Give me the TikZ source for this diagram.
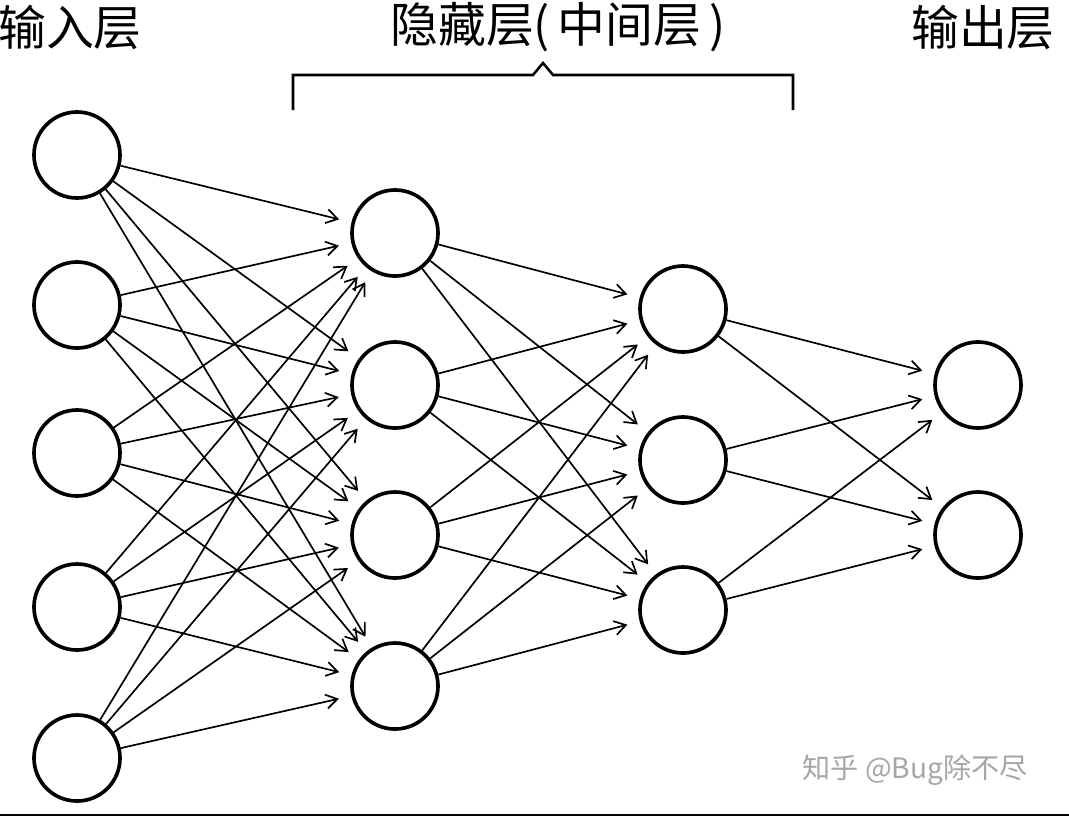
\documentclass[tikz,border=0pt]{standalone}
\usepackage{fontspec}
\newfontfamily\cjk{Noto Sans CJK SC}
\usetikzlibrary{arrows.meta}
\begin{document}
\begin{tikzpicture}[x=0.025cm,y=-0.025cm,
  neuron/.style={circle,draw,line width=2.6pt,minimum size=2.15cm,inner sep=0pt},
  conn/.style={line width=1.2pt,-{Straight Barb[length=8pt,width=10pt,line width=1.2pt]},shorten >=9pt},
  ttl/.style={font=\cjk\fontsize{34}{34}\selectfont,inner sep=0pt}]
\useasboundingbox (0,0) rectangle (1069,818);
\foreach \i/\y in {1/155,2/305,3/453,4/607,5/758} \node[neuron] (a\i) at (77,\y) {};
\foreach \i/\y in {1/233,2/385,3/535,4/686} \node[neuron] (b\i) at (395,\y) {};
\foreach \i/\y in {1/309,2/460,3/610} \node[neuron] (c\i) at (683,\y) {};
\foreach \i/\y in {1/385,2/535} \node[neuron] (d\i) at (978,\y) {};
\foreach \i in {1,...,5} \foreach \j in {1,...,4} \draw[conn] (a\i) -- (b\j);
\foreach \i in {1,...,4} \foreach \j in {1,...,3} \draw[conn] (b\i) -- (c\j);
\foreach \i in {1,...,3} \foreach \j in {1,2} \draw[conn] (c\i) -- (d\j);
\node[ttl] (t1) at (70,27) {输入层};
\node[ttl] (t2) at (558,27) {隐藏层(\,中间层\,)};
\node[ttl] (t3) at (983,27) {输出层};
\coordinate (k1) at (293,110); \coordinate (k2) at (293,75);
\coordinate (k3) at (533,75); \coordinate (k4) at (543,63);
\coordinate (k5) at (553,75); \coordinate (k6) at (793,75); \coordinate (k7) at (793,110);
\draw[line width=1.8pt] (k1) -- (k2) -- (k3) -- (k4) -- (k5) -- (k6) -- (k7);
\node[font=\cjk\fontsize{20}{20}\selectfont,text=black!35,inner sep=0pt] (wm) at (915,770) {知乎 @Bug除不尽};
\coordinate (l1) at (0,815); \coordinate (l2) at (1069,815);
\draw[line width=1.2pt] (l1) -- (l2);
\end{tikzpicture}
\end{document}
